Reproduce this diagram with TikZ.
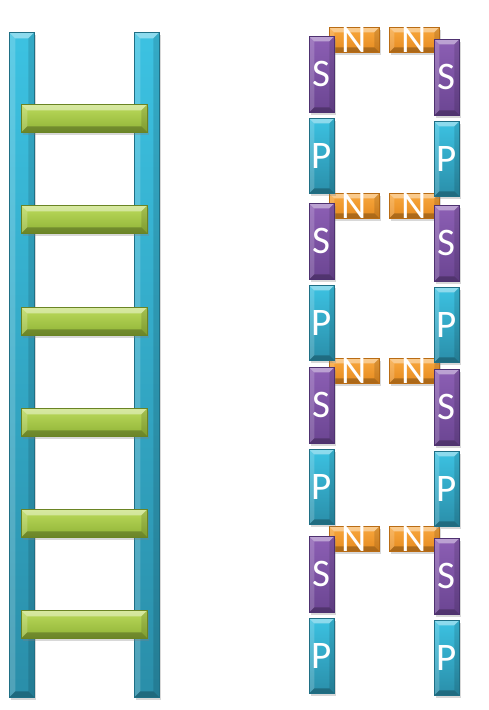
\documentclass[tikz,border=0pt]{standalone}
\usepackage{fontspec}
\setmainfont{Carlito}
\usetikzlibrary{shadows}
\definecolor{bluetop}{HTML}{3CC2E2}
\definecolor{bluebot}{HTML}{2A8EA9}
\definecolor{blueedge}{HTML}{1F6F85}
\definecolor{greentop}{HTML}{BCDB5C}
\definecolor{greenbot}{HTML}{8FB236}
\definecolor{greenedge}{HTML}{6A8424}
\definecolor{purptop}{HTML}{8C5FB4}
\definecolor{purpbot}{HTML}{6B4592}
\definecolor{purpedge}{HTML}{4E3170}
\definecolor{orantop}{HTML}{F9A83E}
\definecolor{oranbot}{HTML}{E58A1F}
\definecolor{oranedge}{HTML}{B96C14}
\tikzset{
  bevel/.style={path picture={
    \coordinate (pNW) at (path picture bounding box.north west);
    \coordinate (pNE) at (path picture bounding box.north east);
    \coordinate (pSW) at (path picture bounding box.south west);
    \coordinate (pSE) at (path picture bounding box.south east);
    \fill[white,opacity=.42] (pNW) -- (pNE) -- ([xshift=-#1pt,yshift=-#1pt]pNE) -- ([xshift=#1pt,yshift=-#1pt]pNW) -- cycle;
    \fill[white,opacity=.18] (pNW) -- ([xshift=#1pt,yshift=-#1pt]pNW) -- ([xshift=#1pt,yshift=#1pt]pSW) -- (pSW) -- cycle;
    \fill[black,opacity=.12] (pNE) -- ([xshift=-#1pt,yshift=-#1pt]pNE) -- ([xshift=-#1pt,yshift=#1pt]pSE) -- (pSE) -- cycle;
    \fill[black,opacity=.25] (pSW) -- (pSE) -- ([xshift=-#1pt,yshift=#1pt]pSE) -- ([xshift=#1pt,yshift=#1pt]pSW) -- cycle;
  }},
  bevel/.default=5,
  piece/.style={rectangle, inner sep=0pt, anchor=north west, text=white,
    font=\fontsize{39}{39}\selectfont, line width=0.6pt,
    drop shadow={opacity=0.3, shadow xshift=1.5pt, shadow yshift=-2.5pt}},
  railbox/.style={piece, top color=bluetop, bottom color=bluebot, draw=blueedge,
    minimum width=25pt, minimum height=665pt, bevel=6},
  rungbox/.style={piece, top color=greentop, bottom color=greenbot, draw=greenedge,
    minimum width=126pt, minimum height=28pt, bevel=6},
  nbox/.style={piece, top color=orantop, bottom color=oranbot, draw=oranedge,
    minimum width=50pt, minimum height=25pt, bevel=5},
  sbox/.style={piece, top color=purptop, bottom color=purpbot, draw=purpedge,
    minimum width=25pt, minimum height=76pt, bevel=5},
  pbox/.style={piece, top color=bluetop, bottom color=bluebot, draw=blueedge,
    minimum width=25pt, minimum height=75pt, bevel=5},
}
\begin{document}
\begin{tikzpicture}[x=1pt,y=-1pt]
\useasboundingbox[fill=white] (0,0) rectangle (489,710);
% ladder
\node[railbox] (railL) at (9,32) {};
\node[railbox] (railR) at (134,32) {};
\foreach \y [count=\i] in {104,205,307,408,509,610}
  \node[rungbox] (rung\i) at (21,\y) {};
% chain: N pieces first
\foreach \n/\ny in {1/27,2/193,3/358,4/526}{
  \node[nbox] (nL\n) at (329,\ny) {N};
  \node[nbox] (nR\n) at (389,\ny) {N};
}
\foreach \n/\sl/\sr/\pl/\pr in {1/36/39/118/121, 2/203/205/285/287, 3/367/369/449/451, 4/536/538/618/620}{
  \node[sbox] (sL\n) at (309,\sl) {S};
  \node[sbox] (sR\n) at (434,\sr) {S};
  \node[pbox] (pL\n) at (309,\pl) {P};
  \node[pbox] (pR\n) at (434,\pr) {P};
}
\end{tikzpicture}
\end{document}
